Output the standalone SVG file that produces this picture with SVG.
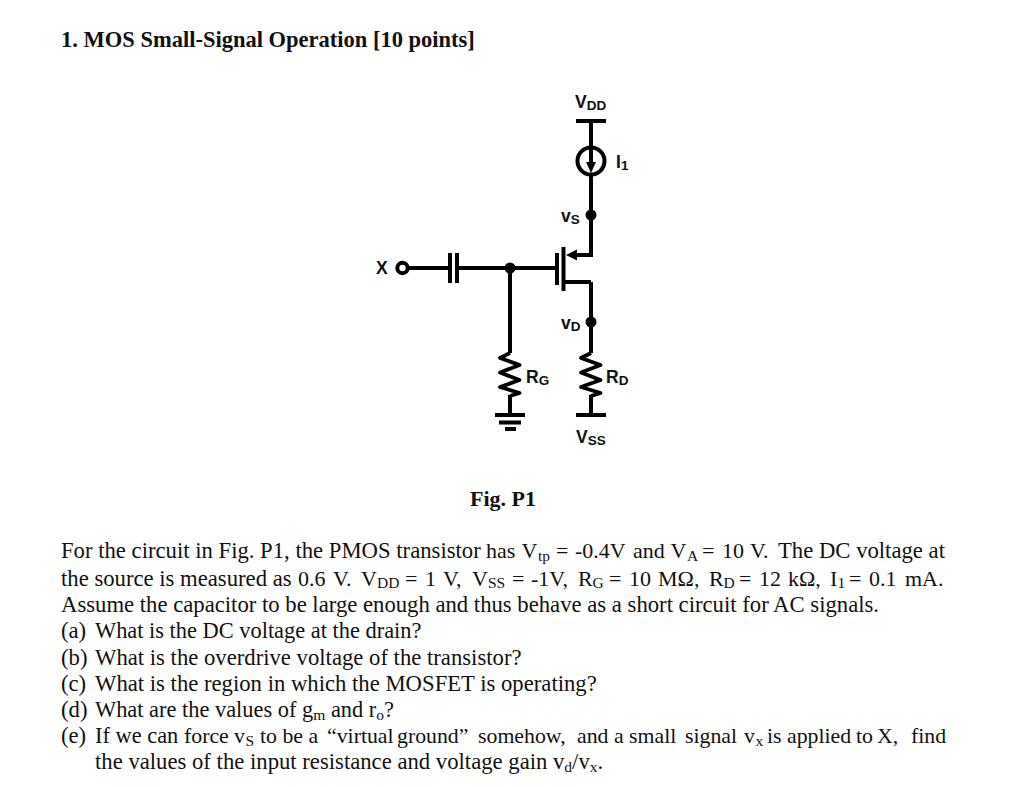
<svg xmlns="http://www.w3.org/2000/svg" width="1024" height="787" viewBox="0 0 1024 787">
<style>
.w{fill:none;stroke:#000;stroke-width:4;stroke-linejoin:miter}
.z{fill:none;stroke:#000;stroke-width:3.8;stroke-linejoin:round}
.k{fill:#000;stroke:none}
.l{font-family:"Liberation Sans",Arial,sans-serif;font-weight:bold;font-size:17.500px;fill:#111}
.l tspan{font-size:13.500px}
.b{font-family:"Liberation Serif","Times New Roman",serif;font-size:22.700px;fill:#111}
.b tspan{font-size:22.700px}
.b tspan.s{font-size:15.500px}
.b tspan.d{font-size:22px}
.b.c{font-size:22.400px}
.b.c tspan{font-size:22.400px}
.b.c tspan.e{font-size:21.800px}
.b.c tspan.s{font-size:15.500px}
.h{font-family:"Liberation Serif","Times New Roman",serif;font-size:22.500px;font-weight:bold;fill:#111}
</style>
<rect width="1024" height="787" fill="#fff"/>
<text id="title" class="h" x="61" y="47">1. MOS Small-Signal Operation [10 points]</text>
<g id="connectors">
<path class="w" d="M591 121V166M591 175V255H574M591 282H563M591 282V353M591 395V415"/>
<path class="w" d="M409 268H450M457 268H557M510 268V353M510 395V415"/>
</g>
<g id="vdd"><path class="w" d="M576 121H606"/><text class="l" x="575" y="108">V<tspan dy="2">DD</tspan></text></g>
<g id="i1"><circle class="w" cx="591" cy="161" r="13.500"/><path class="k" d="M591 173L586 162H596Z"/><text class="l" x="616" y="168">I<tspan dy="2">1</tspan></text></g>
<g id="vs"><circle class="k" cx="591" cy="215" r="5.500"/><text class="l" x="561" y="222">v<tspan dy="2">S</tspan></text></g>
<g id="mos"><path class="w" d="M557 253V285M563.500 247V291"/><path class="k" d="M566 255L577 249.500V260.500Z"/></g>
<g id="x"><circle class="w" cx="402.500" cy="268" r="5.200"/><text class="l" x="376" y="274">X</text></g>
<g id="cap"><path class="w" d="M450 253V283M457 253V283"/></g>
<g id="gate-node"><circle class="k" cx="510" cy="268" r="5.500"/></g>
<g id="vd"><circle class="k" cx="591" cy="322" r="5.500"/><text class="l" x="561" y="329">v<tspan dy="2">D</tspan></text></g>
<g id="rg"><path class="z" d="M510 353L500 358L519.500 365L500 372.500L519.500 380L500 387L519.500 393L510 396"/><text class="l" x="526" y="383">R<tspan dy="2">G</tspan></text></g>
<g id="rd"><path class="z" d="M591 353L581 358L600.500 365L581 372.500L600.500 380L581 387L600.500 393L591 396"/><text class="l" x="606" y="383">R<tspan dy="2">D</tspan></text></g>
<g id="ground"><path class="w" d="M495 415H525M499 422.500H521M505 429H516"/></g>
<g id="vss"><path class="w" d="M576 415H606"/><text class="l" x="576" y="443">V<tspan dy="2">SS</tspan></text></g>
<text id="fig" class="h" x="470" y="506" style="font-size:22px">Fig. P1</text>
<g id="body">
<text class="b" x="61" y="558">For the circuit in Fig. P1, the PMOS transistor <tspan class="d" x="486">has </tspan><tspan class="d" x="521.500">V</tspan><tspan class="s" x="538" dy="2.500">tp</tspan><tspan class="d" x="556" dy="-2.500">= </tspan><tspan class="d" x="575">-0.4V </tspan><tspan class="d" x="633">and </tspan><tspan class="d" x="670.500">V</tspan><tspan class="s" x="687" dy="2.500">A</tspan><tspan class="d" x="702" dy="-2.500">= </tspan><tspan class="d" x="722">10 </tspan><tspan class="d" x="750">V. </tspan><tspan x="778">The DC voltage at</tspan></text>
<text class="b" x="61" y="585.500">the source is measured as <tspan class="d" x="298">0.6 </tspan><tspan class="d" x="333">V. </tspan><tspan class="d" x="361">V</tspan><tspan class="s" x="377" dy="2.500">DD</tspan><tspan class="d" x="405" dy="-2.500">= </tspan><tspan class="d" x="425">1 </tspan><tspan class="d" x="443">V, </tspan><tspan class="d" x="472">V</tspan><tspan class="s" x="488" dy="2.500">SS</tspan><tspan class="d" x="512" dy="-2.500">= </tspan><tspan class="d" x="531">-1V, </tspan><tspan class="d" x="578">R</tspan><tspan class="s" x="592.500" dy="2.500">G</tspan><tspan class="d" x="609" dy="-2.500">= </tspan><tspan class="d" x="629">10 </tspan><tspan class="d" x="658">MΩ, </tspan><tspan class="d" x="709">R</tspan><tspan class="s" x="723.500" dy="2.500">D</tspan><tspan class="d" x="739" dy="-2.500">= </tspan><tspan class="d" x="759">12 </tspan><tspan class="d" x="788">kΩ, </tspan><tspan class="d" x="830">I</tspan><tspan class="s" x="837.500" dy="2.500">1</tspan><tspan class="d" x="849" dy="-2.500">= </tspan><tspan class="d" x="869">0.1 </tspan><tspan class="d" x="905">mA.</tspan></text>
<text class="b" x="61" y="612">Assume the capacitor to be large enough and thus behave as a short circuit for AC signals.</text>
<text class="b" x="61" y="638">(a)</text><text class="b c" x="95" y="638">What is the DC voltage at the drain?</text>
<text class="b" x="61" y="665">(b)</text><text class="b" x="95" y="665">What is the overdrive voltage of the transistor?</text>
<text class="b" x="61" y="691">(c)</text><text class="b" x="95" y="691">What is the region in which the MOSFET is operating?</text>
<text class="b" x="61" y="717">(d)</text><text class="b c" x="95" y="717">What are the values of g<tspan class="s" dy="2.500">m</tspan><tspan dy="-2.500"> and r</tspan><tspan class="s" dy="2.500">o</tspan><tspan dy="-2.500">?</tspan></text>
<text class="b" x="61" y="743">(e)</text><text class="b c" x="95" y="743">If we can <tspan class="e" x="184">force </tspan><tspan class="e" x="234">v</tspan><tspan class="s" x="245.500" dy="2.500">S</tspan><tspan class="e" x="260" dy="-2.500">to be a </tspan><tspan class="e" x="327">“virtual </tspan><tspan class="e" x="397">ground” </tspan><tspan class="e" x="478">somehow, </tspan><tspan class="e" x="577">and a small </tspan><tspan class="e" x="685">signal </tspan><tspan class="e" x="744">v</tspan><tspan class="s" x="755.500" dy="2.500">x</tspan><tspan class="e" x="767" dy="-2.500">is applied </tspan><tspan class="e" x="856">to </tspan><tspan class="e" x="877">X, </tspan><tspan class="e" x="911">find</tspan></text>
<text class="b" x="95" y="769">the values of the input resistance and voltage gain v<tspan class="s" dy="2.500">d</tspan><tspan dy="-2.500">/v</tspan><tspan class="s" dy="2.500">x</tspan><tspan dy="-2.500">.</tspan></text>
</g>
</svg>
